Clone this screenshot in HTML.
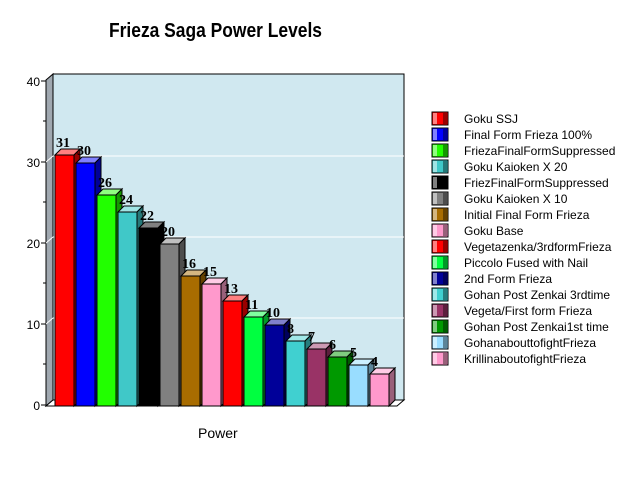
<!DOCTYPE html>
<html><head><meta charset="utf-8"><style>html,body{margin:0;padding:0;background:#fff}svg{display:block}</style></head><body>
<svg width="640" height="480" xmlns="http://www.w3.org/2000/svg" font-family="Liberation Sans, sans-serif">
<rect width="640" height="480" fill="#fff"/>
<text x="109" y="37" font-size="20" font-weight="bold" textLength="213" lengthAdjust="spacingAndGlyphs">Frieza Saga Power Levels</text>
<rect x="53" y="74" width="351" height="326" fill="#d0e8f0" stroke="#000"/>
<polygon points="46,80 53,74 53,400 46,406" fill="#a0a8b0" stroke="#000"/>
<polygon points="46,406 53,400 404,400 397,406" fill="#fff" stroke="#000"/>
<g stroke="#fff">
<line x1="53" y1="156" x2="404" y2="156"/><line x1="46" y1="162" x2="53" y2="156"/>
<line x1="53" y1="237" x2="404" y2="237"/><line x1="46" y1="243" x2="53" y2="237"/>
<line x1="53" y1="318" x2="404" y2="318"/><line x1="46" y1="324" x2="53" y2="318"/>
</g>
<g stroke="#000"><line x1="41" y1="81" x2="46" y2="81"/><line x1="43" y1="121" x2="46" y2="121"/><line x1="41" y1="162" x2="46" y2="162"/><line x1="43" y1="202" x2="46" y2="202"/><line x1="41" y1="243" x2="46" y2="243"/><line x1="43" y1="283" x2="46" y2="283"/><line x1="41" y1="324" x2="46" y2="324"/><line x1="43" y1="364" x2="46" y2="364"/><line x1="41" y1="405" x2="46" y2="405"/></g>
<g font-size="12" text-anchor="end"><text x="40" y="86">40</text><text x="40" y="167">30</text><text x="40" y="248">20</text><text x="40" y="329">10</text><text x="40" y="410">0</text></g>
<g>
<g transform="translate(55,155)"><polygon points="0,0 6,-6 25,-6 19,0" fill="#ff8080" stroke="#000"/><polygon points="19,0 25,-6 25,245 19,251" fill="#990000" stroke="#000"/><rect width="19" height="251" fill="#ff0000" stroke="#000"/></g>
<g transform="translate(76,163)"><polygon points="0,0 6,-6 25,-6 19,0" fill="#8080ff" stroke="#000"/><polygon points="19,0 25,-6 25,237 19,243" fill="#000099" stroke="#000"/><rect width="19" height="243" fill="#0000ff" stroke="#000"/></g>
<g transform="translate(97,195)"><polygon points="0,0 6,-6 25,-6 19,0" fill="#90ff80" stroke="#000"/><polygon points="19,0 25,-6 25,205 19,211" fill="#149900" stroke="#000"/><rect width="19" height="211" fill="#22ff00" stroke="#000"/></g>
<g transform="translate(118,212)"><polygon points="0,0 6,-6 25,-6 19,0" fill="#a0e4e4" stroke="#000"/><polygon points="19,0 25,-6 25,188 19,194" fill="#267878" stroke="#000"/><rect width="19" height="194" fill="#40c8c8" stroke="#000"/></g>
<g transform="translate(139,228)"><polygon points="0,0 6,-6 25,-6 19,0" fill="#808080" stroke="#000"/><polygon points="19,0 25,-6 25,172 19,178" fill="#000" stroke="#000"/><rect width="19" height="178" fill="#000" stroke="#000"/></g>
<g transform="translate(160,244)"><polygon points="0,0 6,-6 25,-6 19,0" fill="#c0c0c0" stroke="#000"/><polygon points="19,0 25,-6 25,156 19,162" fill="#4d4d4d" stroke="#000"/><rect width="19" height="162" fill="#808080" stroke="#000"/></g>
<g transform="translate(181,276)"><polygon points="0,0 6,-6 25,-6 19,0" fill="#d4b680" stroke="#000"/><polygon points="19,0 25,-6 25,124 19,130" fill="#654100" stroke="#000"/><rect width="19" height="130" fill="#a86c00" stroke="#000"/></g>
<g transform="translate(202,284)"><polygon points="0,0 6,-6 25,-6 19,0" fill="#ffcce6" stroke="#000"/><polygon points="19,0 25,-6 25,116 19,122" fill="#99607a" stroke="#000"/><rect width="19" height="122" fill="#ff99cc" stroke="#000"/></g>
<g transform="translate(223,301)"><polygon points="0,0 6,-6 25,-6 19,0" fill="#ff8080" stroke="#000"/><polygon points="19,0 25,-6 25,99 19,105" fill="#990000" stroke="#000"/><rect width="19" height="105" fill="#ff0000" stroke="#000"/></g>
<g transform="translate(244,317)"><polygon points="0,0 6,-6 25,-6 19,0" fill="#80ffa0" stroke="#000"/><polygon points="19,0 25,-6 25,83 19,89" fill="#009926" stroke="#000"/><rect width="19" height="89" fill="#00ff40" stroke="#000"/></g>
<g transform="translate(265,325)"><polygon points="0,0 6,-6 25,-6 19,0" fill="#8080cc" stroke="#000"/><polygon points="19,0 25,-6 25,75 19,81" fill="#00005c" stroke="#000"/><rect width="19" height="81" fill="#000099" stroke="#000"/></g>
<g transform="translate(286,341)"><polygon points="0,0 6,-6 25,-6 19,0" fill="#a0e8e8" stroke="#000"/><polygon points="19,0 25,-6 25,59 19,65" fill="#267d7d" stroke="#000"/><rect width="19" height="65" fill="#40d0d0" stroke="#000"/></g>
<g transform="translate(307,349)"><polygon points="0,0 6,-6 25,-6 19,0" fill="#cc99b3" stroke="#000"/><polygon points="19,0 25,-6 25,51 19,57" fill="#5c1f3d" stroke="#000"/><rect width="19" height="57" fill="#993366" stroke="#000"/></g>
<g transform="translate(328,357)"><polygon points="0,0 6,-6 25,-6 19,0" fill="#80cc80" stroke="#000"/><polygon points="19,0 25,-6 25,43 19,49" fill="#005c00" stroke="#000"/><rect width="19" height="49" fill="#009900" stroke="#000"/></g>
<g transform="translate(349,365)"><polygon points="0,0 6,-6 25,-6 19,0" fill="#ccf0ff" stroke="#000"/><polygon points="19,0 25,-6 25,35 19,41" fill="#5c8599" stroke="#000"/><rect width="19" height="41" fill="#99ddff" stroke="#000"/></g>
<g transform="translate(370,374)"><polygon points="0,0 6,-6 25,-6 19,0" fill="#ffcce6" stroke="#000"/><polygon points="19,0 25,-6 25,26 19,32" fill="#99607a" stroke="#000"/><rect width="19" height="32" fill="#ff99cc" stroke="#000"/></g>
</g>
<g font-family="Liberation Serif, serif" font-weight="bold" font-size="14" fill="#000">
<text x="56" y="147">31</text><text x="77" y="155">30</text><text x="98" y="187">26</text><text x="119" y="204">24</text><text x="140" y="220">22</text><text x="161" y="236">20</text><text x="182" y="268">16</text><text x="203" y="276">15</text><text x="224" y="293">13</text><text x="245" y="309">11</text><text x="266" y="317">10</text><text x="287" y="333">8</text><text x="308" y="341">7</text><text x="329" y="349">6</text><text x="350" y="357">5</text><text x="371" y="366">4</text>
</g>
<text x="198" y="438" font-size="14">Power</text>
<g font-size="12">
<g transform="translate(432,112)"><rect width="16" height="13" fill="#ff0000" stroke="#000"/><rect x="1" y="1" width="4" height="11" fill="#ff8080"/><rect x="11" y="1" width="4" height="11" fill="#990000"/><text x="32" y="11">Goku SSJ</text></g>
<g transform="translate(432,128)"><rect width="16" height="13" fill="#0000ff" stroke="#000"/><rect x="1" y="1" width="4" height="11" fill="#8080ff"/><rect x="11" y="1" width="4" height="11" fill="#000099"/><text x="32" y="11">Final Form Frieza 100%</text></g>
<g transform="translate(432,144)"><rect width="16" height="13" fill="#22ff00" stroke="#000"/><rect x="1" y="1" width="4" height="11" fill="#90ff80"/><rect x="11" y="1" width="4" height="11" fill="#149900"/><text x="32" y="11">FriezaFinalFormSuppressed</text></g>
<g transform="translate(432,160)"><rect width="16" height="13" fill="#40c8c8" stroke="#000"/><rect x="1" y="1" width="4" height="11" fill="#a0e4e4"/><rect x="11" y="1" width="4" height="11" fill="#267878"/><text x="32" y="11">Goku Kaioken X 20</text></g>
<g transform="translate(432,176)"><rect width="16" height="13" fill="#000" stroke="#000"/><rect x="1" y="1" width="4" height="11" fill="#808080"/><text x="32" y="11">FriezFinalFormSuppressed</text></g>
<g transform="translate(432,192)"><rect width="16" height="13" fill="#808080" stroke="#000"/><rect x="1" y="1" width="4" height="11" fill="#c0c0c0"/><rect x="11" y="1" width="4" height="11" fill="#4d4d4d"/><text x="32" y="11">Goku Kaioken X 10</text></g>
<g transform="translate(432,208)"><rect width="16" height="13" fill="#a86c00" stroke="#000"/><rect x="1" y="1" width="4" height="11" fill="#d4b680"/><rect x="11" y="1" width="4" height="11" fill="#654100"/><text x="32" y="11">Initial Final Form Frieza</text></g>
<g transform="translate(432,224)"><rect width="16" height="13" fill="#ff99cc" stroke="#000"/><rect x="1" y="1" width="4" height="11" fill="#ffcce6"/><rect x="11" y="1" width="4" height="11" fill="#99607a"/><text x="32" y="11">Goku Base</text></g>
<g transform="translate(432,240)"><rect width="16" height="13" fill="#ff0000" stroke="#000"/><rect x="1" y="1" width="4" height="11" fill="#ff8080"/><rect x="11" y="1" width="4" height="11" fill="#990000"/><text x="32" y="11">Vegetazenka/3rdformFrieza</text></g>
<g transform="translate(432,256)"><rect width="16" height="13" fill="#00ff40" stroke="#000"/><rect x="1" y="1" width="4" height="11" fill="#80ffa0"/><rect x="11" y="1" width="4" height="11" fill="#009926"/><text x="32" y="11">Piccolo Fused with Nail</text></g>
<g transform="translate(432,272)"><rect width="16" height="13" fill="#000099" stroke="#000"/><rect x="1" y="1" width="4" height="11" fill="#8080cc"/><rect x="11" y="1" width="4" height="11" fill="#00005c"/><text x="32" y="11">2nd Form Frieza</text></g>
<g transform="translate(432,288)"><rect width="16" height="13" fill="#40d0d0" stroke="#000"/><rect x="1" y="1" width="4" height="11" fill="#a0e8e8"/><rect x="11" y="1" width="4" height="11" fill="#267d7d"/><text x="32" y="11">Gohan Post Zenkai 3rdtime</text></g>
<g transform="translate(432,304)"><rect width="16" height="13" fill="#993366" stroke="#000"/><rect x="1" y="1" width="4" height="11" fill="#cc99b3"/><rect x="11" y="1" width="4" height="11" fill="#5c1f3d"/><text x="32" y="11">Vegeta/First form Frieza</text></g>
<g transform="translate(432,320)"><rect width="16" height="13" fill="#009900" stroke="#000"/><rect x="1" y="1" width="4" height="11" fill="#80cc80"/><rect x="11" y="1" width="4" height="11" fill="#005c00"/><text x="32" y="11">Gohan Post Zenkai1st time</text></g>
<g transform="translate(432,336)"><rect width="16" height="13" fill="#99ddff" stroke="#000"/><rect x="1" y="1" width="4" height="11" fill="#ccf0ff"/><rect x="11" y="1" width="4" height="11" fill="#5c8599"/><text x="32" y="11">GohanabouttofightFrieza</text></g>
<g transform="translate(432,352)"><rect width="16" height="13" fill="#ff99cc" stroke="#000"/><rect x="1" y="1" width="4" height="11" fill="#ffcce6"/><rect x="11" y="1" width="4" height="11" fill="#99607a"/><text x="32" y="11">KrillinaboutofightFrieza</text></g>
</g>
</svg>
</body></html>
